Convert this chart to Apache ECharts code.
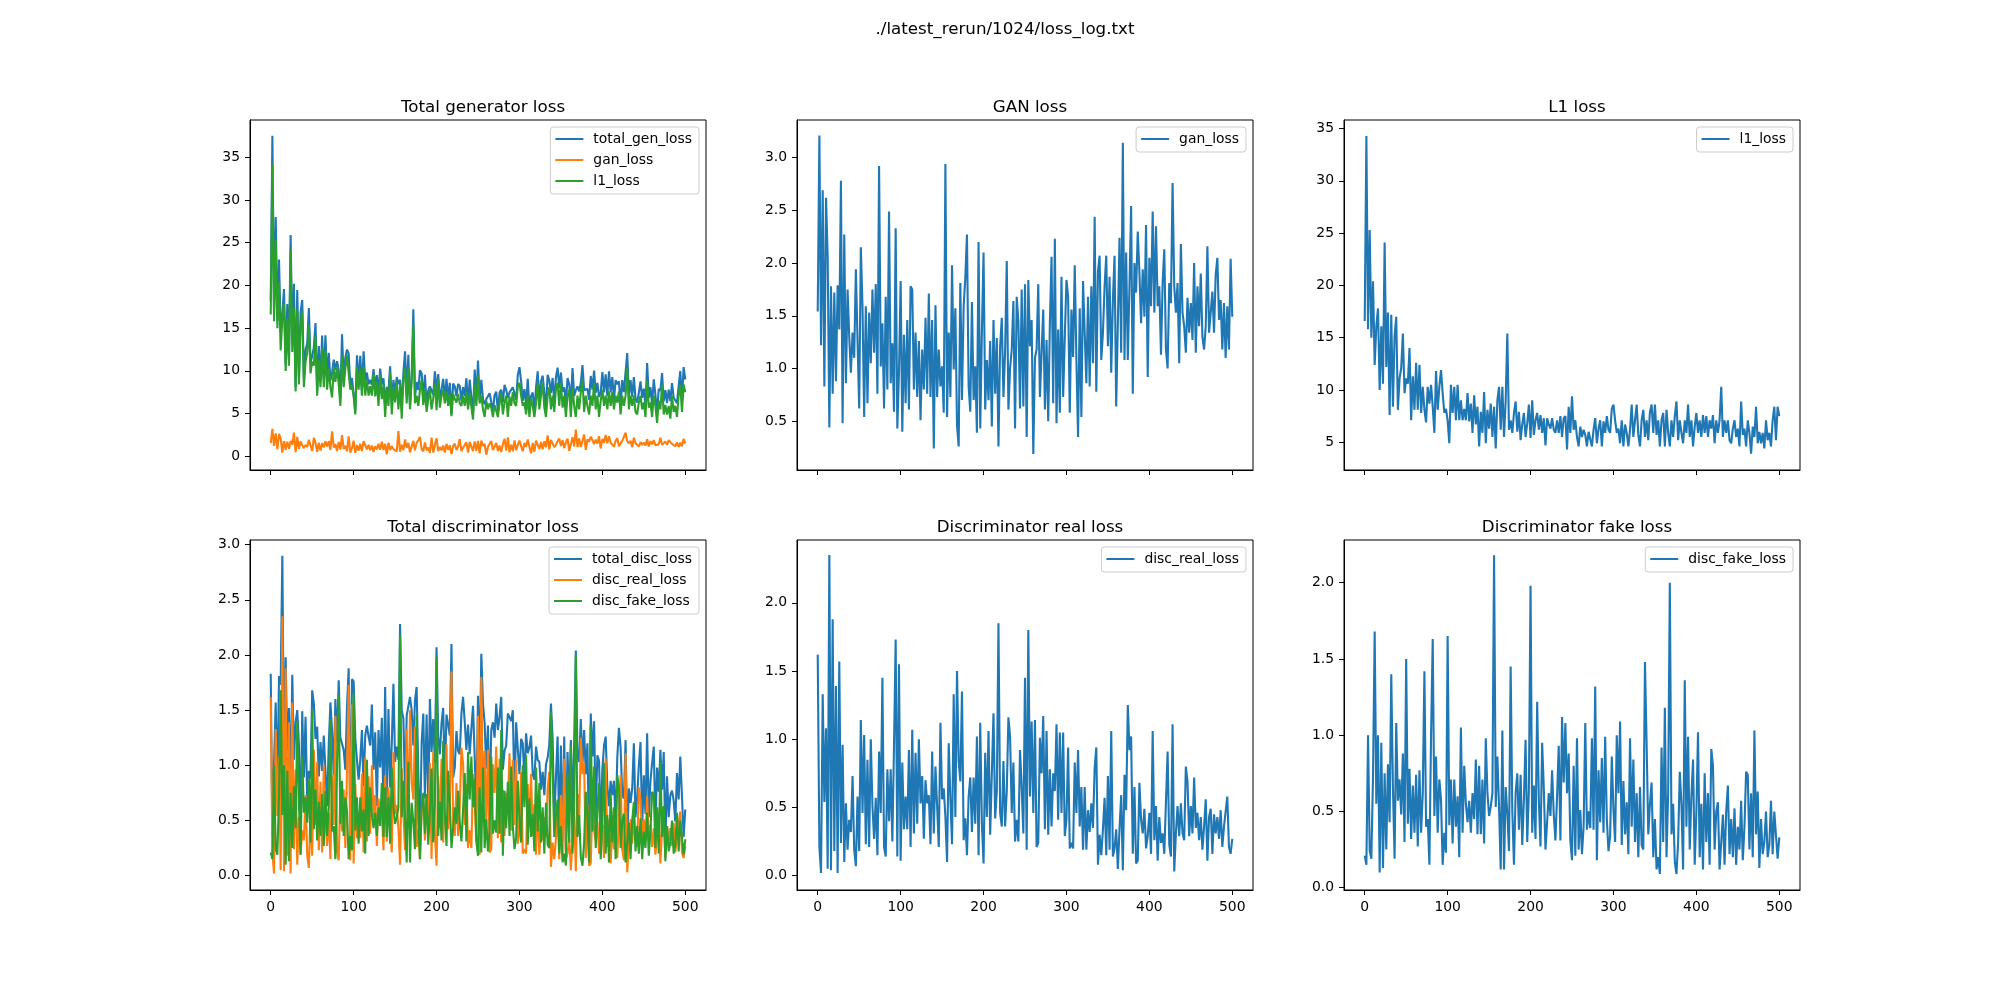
<!DOCTYPE html>
<html>
<head>
<meta charset="utf-8">
<title>loss_log</title>
<script src="https://cdn.jsdelivr.net/npm/echarts@6/dist/echarts.min.js"></script>
<style>
    html, body { margin: 0; padding: 0; background: #fff; }
    #chart { width: 2000px; height: 1000px; }
</style>
</head>
<body>
<div id="chart"></div>
<script>
// samples are logged every 2 epochs, 0..500
var lastEpoch = 500;

var totalGenLoss = [
    18.14, 37.51, 17.02, 27.99, 15.83, 23.02,
    14.46, 16.54, 19.58, 10.76, 17.82,
    11.48, 25.89, 13.57, 20.18, 8.08,
    19.47, 9.26, 16.85, 18.30, 9.06,
    12.44, 13.20, 17.34, 10.97, 11.72,
    12.75, 15.59, 7.64, 12.89, 8.77,
    14.13, 9.15, 14.15, 8.95, 12.10,
    8.86, 9.82, 11.32, 10.13, 11.12,
    10.08, 6.70, 14.29, 8.96, 11.54,
    12.49, 12.03, 8.23, 9.16, 8.93,
    5.30, 11.82, 8.47, 11.76, 7.71,
    12.28, 8.85, 9.80, 8.44, 8.93,
    8.36, 10.21, 8.18, 9.50, 7.38,
    10.26, 8.41, 9.13, 6.06, 8.14,
    7.50, 10.53, 6.08, 8.93, 7.32,
    9.28, 8.44, 8.94, 5.74, 9.73,
    12.28, 7.19, 11.87, 5.96, 9.26,
    17.21, 6.90, 8.69, 7.76, 10.07,
    9.73, 6.59, 9.53, 5.90, 7.72,
    8.19, 7.70, 7.23, 9.94, 7.50,
    9.61, 6.78, 7.80, 9.06, 6.65,
    9.06, 6.66, 8.59, 4.96, 8.51,
    8.18, 7.03, 8.46, 8.22, 6.51,
    8.10, 7.08, 9.14, 5.93, 8.98,
    8.95, 4.92, 10.15, 6.54, 11.20,
    6.55, 8.94, 6.71, 6.06, 6.69,
    6.60, 7.38, 7.50, 5.33, 7.15,
    7.56, 5.21, 7.47, 7.80, 6.33,
    8.36, 7.77, 6.83, 7.48, 7.27,
    8.08, 8.07, 6.63, 9.50, 10.44,
    8.78, 6.48, 7.86, 6.01, 9.08,
    5.68, 7.05, 7.47, 5.14, 8.03,
    9.94, 6.36, 8.78, 9.43, 7.48,
    5.65, 9.54, 8.88, 7.42, 9.17,
    6.28, 9.24, 10.38, 7.97, 9.81,
    7.57, 8.06, 6.25, 9.17, 8.44,
    6.03, 10.34, 7.05, 7.74, 8.18,
    7.60, 8.58, 10.68, 7.74, 7.86,
    7.90, 6.62, 9.40, 7.81, 10.03,
    7.44, 8.59, 6.96, 7.42, 9.85,
    7.49, 9.59, 7.03, 9.95, 7.49,
    9.28, 6.63, 8.91, 8.43, 8.78,
    5.90, 8.91, 7.52, 9.86, 12.08,
    7.03, 8.91, 6.95, 9.28, 6.73,
    6.30, 7.45, 8.77, 6.84, 7.92,
    5.87, 10.90, 6.85, 8.08, 6.00,
    9.00, 7.20, 5.08, 7.90, 7.66,
    9.74, 6.43, 7.73, 6.24, 7.79,
    6.45, 8.56, 6.85, 7.08, 6.22,
    8.20, 9.99, 6.38, 10.44, 8.99
];

var ganLoss = [
    1.54, 3.21, 1.22, 2.69, 0.83, 2.62,
    2.06, 0.44, 1.78, 0.76, 1.72,
    0.88, 1.79, 1.37, 2.78, 0.48,
    2.27, 0.86, 1.75, 1.30, 0.96,
    1.34, 1.10, 1.94, 1.27, 0.62,
    2.15, 1.59, 0.54, 1.59, 0.67,
    1.53, 1.05, 1.75, 1.15, 1.80,
    0.76, 2.92, 1.02, 1.43, 0.62,
    1.68, 0.80, 2.49, 0.86, 1.24,
    0.59, 2.33, 0.43, 0.96, 1.83,
    0.40, 1.32, 0.67, 1.46, 0.61,
    1.78, 1.75, 0.80, 1.34, 0.73,
    1.26, 0.51, 1.18, 0.80, 1.48,
    0.76, 1.71, 0.73, 1.46, 0.24,
    1.60, 0.73, 1.18, 0.83, 1.02,
    0.58, 2.94, 0.54, 1.34, 0.73,
    1.98, 0.99, 1.57, 0.46, 0.26,
    1.81, 0.70, 1.59, 1.86, 2.27,
    0.83, 0.59, 1.63, 0.70, 1.02,
    0.39, 2.20, 0.43, 1.34, 2.10,
    0.61, 1.08, 0.70, 1.26, 0.45,
    1.46, 0.76, 1.29, 0.26, 1.21,
    1.48, 0.73, 1.16, 2.02, 0.61,
    1.00, 1.18, 1.64, 0.43, 1.68,
    1.45, 0.62, 1.75, 0.64, 1.80,
    0.35, 1.84, 1.21, 1.46, 0.19,
    1.10, 1.18, 1.80, 0.73, 1.15,
    1.56, 0.61, 1.27, 0.50, 1.43,
    2.06, 0.67, 2.23, 0.48, 1.37,
    0.58, 1.87, 0.73, 1.30, 1.84,
    1.68, 0.58, 1.56, 1.11, 1.98,
    1.08, 0.35, 1.57, 0.54, 1.83,
    1.34, 0.86, 1.68, 0.83, 1.78,
    1.05, 2.44, 0.78, 1.92, 2.07,
    1.08, 1.34, 1.78, 2.07, 1.21,
    1.87, 0.96, 1.65, 2.07, 0.64,
    1.43, 2.24, 1.15, 3.14, 1.08,
    2.10, 1.08, 1.78, 2.54, 0.76,
    2.00, 1.72, 2.30, 1.91, 1.43,
    1.94, 1.49, 2.36, 0.92, 2.05,
    1.59, 2.49, 1.53, 2.35, 1.59,
    1.78, 1.13, 1.81, 2.13, 1.18,
    1.00, 1.81, 1.62, 2.76, 1.78,
    1.53, 1.81, 1.05, 2.18, 1.53,
    1.40, 1.15, 1.67, 1.34, 1.62,
    1.27, 2.00, 1.15, 1.78, 1.40,
    1.90, 1.30, 1.18, 1.40, 2.16,
    1.34, 1.53, 1.73, 1.34, 1.89,
    2.05, 1.46, 1.65, 1.18, 1.62,
    1.10, 1.59, 1.18, 2.04, 1.49
];

var l1Loss = [
    16.6, 34.3, 15.8, 25.3, 15.0, 20.4,
    12.4, 16.1, 17.8, 10.0, 16.1,
    10.6, 24.1, 12.2, 17.4, 7.6,
    17.2, 8.4, 15.1, 17.0, 8.1,
    11.1, 12.1, 15.4, 9.7, 11.1,
    10.6, 14.0, 7.1, 11.3, 8.1,
    12.6, 8.1, 12.4, 7.8, 10.3,
    8.1, 6.9, 10.3, 8.7, 10.5,
    8.4, 5.9, 11.8, 8.1, 10.3,
    11.9, 9.7, 7.8, 8.2, 7.1,
    4.9, 10.5, 7.8, 10.3, 7.1,
    10.5, 7.1, 9.0, 7.1, 8.2,
    7.1, 9.7, 7.0, 8.7, 5.9,
    9.5, 6.7, 8.4, 4.6, 7.9,
    5.9, 9.8, 4.9, 8.1, 6.3,
    8.7, 5.5, 8.4, 4.4, 9.0,
    10.3, 6.2, 10.3, 5.5, 9.0,
    15.4, 6.2, 7.1, 5.9, 7.8,
    8.9, 6.0, 7.9, 5.2, 6.7,
    7.8, 5.5, 6.8, 8.6, 5.4,
    9.0, 5.7, 7.1, 7.8, 6.2,
    7.6, 5.9, 7.3, 4.7, 7.3,
    6.7, 6.3, 7.3, 6.2, 5.9,
    7.1, 5.9, 7.5, 5.5, 7.3,
    7.5, 4.3, 8.4, 5.9, 9.4,
    6.2, 7.1, 5.5, 4.6, 6.5,
    5.5, 6.2, 5.7, 4.6, 6.0,
    6.0, 4.6, 6.2, 7.3, 4.9,
    6.3, 7.1, 4.6, 7.0, 5.9,
    7.5, 6.2, 5.9, 8.2, 8.6,
    7.1, 5.9, 6.3, 4.9, 7.1,
    4.6, 6.7, 5.9, 4.6, 6.2,
    8.6, 5.5, 7.1, 8.6, 5.7,
    4.6, 7.1, 8.1, 5.5, 7.1,
    5.2, 7.9, 8.6, 5.9, 8.6,
    5.7, 7.1, 4.6, 7.1, 7.8,
    4.6, 8.1, 5.9, 4.6, 7.1,
    5.5, 7.5, 8.9, 5.2, 7.1,
    5.9, 4.9, 7.1, 5.9, 8.6,
    5.5, 7.1, 4.6, 6.5, 7.8,
    5.9, 7.1, 5.5, 7.6, 5.9,
    7.5, 5.5, 7.1, 6.3, 7.6,
    4.9, 7.1, 5.9, 7.1, 10.3,
    5.5, 7.1, 5.9, 7.1, 5.2,
    4.9, 6.3, 7.1, 5.5, 6.3,
    4.6, 8.9, 5.7, 6.3, 4.6,
    7.1, 5.9, 3.9, 6.5, 5.5,
    8.4, 4.9, 6.0, 4.9, 5.9,
    4.4, 7.1, 5.2, 5.9, 4.6,
    7.1, 8.4, 5.2, 8.4, 7.5
];

var totalDiscLoss = [
    1.83, 0.36, 1.02, 1.57, 0.73, 1.81,
    1.73, 2.90, 1.04, 1.98, 1.13,
    1.52, 0.77, 1.82, 1.05, 1.39,
    1.50, 1.19, 0.38, 1.49, 0.89,
    1.44, 0.67, 0.95, 0.88, 1.68,
    1.56, 1.24, 1.35, 0.90, 1.21,
    0.95, 1.27, 1.28, 0.63, 1.19,
    1.57, 1.31, 0.91, 1.60, 1.21,
    1.77, 1.25, 1.26, 1.14, 0.96,
    1.53, 1.88, 0.50, 1.78, 1.76,
    1.24, 1.05, 0.87, 1.05, 1.32,
    0.81, 1.27, 1.36, 1.26, 1.18,
    1.55, 0.96, 1.30, 0.63, 1.32,
    0.98, 1.43, 0.58, 1.71, 0.66,
    1.51, 0.80, 1.19, 1.74, 1.03,
    1.17, 1.05, 2.28, 1.50, 1.42,
    0.76, 1.45, 1.46, 1.62, 1.50,
    1.18, 1.59, 1.71, 0.92, 0.30,
    1.20, 1.47, 0.70, 1.46, 0.66,
    1.60, 1.12, 1.42, 1.02, 2.07,
    1.26, 1.10, 1.38, 1.52, 0.88,
    1.46, 1.37, 1.27, 2.10, 0.89,
    0.98, 1.31, 1.13, 1.10, 1.47,
    1.62, 1.39, 1.14, 1.37, 1.10,
    1.33, 1.54, 1.53, 0.62, 1.63,
    0.99, 2.01, 1.56, 1.38, 0.97,
    1.36, 0.61, 1.32, 1.39, 1.25,
    1.56, 1.32, 1.44, 1.62, 0.96,
    1.13, 1.18, 1.47, 1.47, 1.40,
    1.50, 0.70, 1.39, 1.15, 0.92,
    1.24, 1.20, 0.86, 1.29, 1.11,
    1.16, 1.27, 0.92, 0.87, 1.17,
    1.05, 1.03, 0.78, 0.94, 0.73,
    1.01, 1.07, 1.19, 1.56, 1.24,
    0.50, 0.89, 1.26, 0.35, 1.18,
    0.31, 1.26, 0.23, 1.12, 0.64,
    1.23, 0.54, 1.21, 2.04, 1.09,
    1.03, 1.42, 1.01, 1.32, 0.92,
    1.20, 0.21, 1.47, 1.08, 1.40,
    0.56, 1.09, 1.04, 0.44, 0.96,
    1.18, 1.26, 0.81, 0.63, 0.86,
    0.73, 0.86, 0.46, 1.07, 1.34,
    1.16, 0.73, 0.70, 1.23, 0.33,
    0.79, 0.66, 0.79, 1.20, 0.53,
    0.71, 1.00, 1.21, 0.44, 0.91,
    0.56, 1.29, 0.53, 0.86, 1.02,
    1.17, 0.44, 0.98, 0.76, 1.14,
    0.78, 1.12, 0.29, 0.90, 0.53,
    0.73, 0.77, 0.68, 0.49, 0.93,
    0.69, 1.08, 0.72, 0.35, 0.60
];

var discRealLoss = [
    1.62, 0.21, 0.02, 1.33, 0.54, 1.08,
    0.05, 2.35, 0.04, 1.88, 0.18,
    1.39, 0.02, 1.57, 0.24, 0.96,
    0.10, 0.53, 0.19, 0.41, 0.32,
    0.73, 0.19, 0.07, 0.58, 0.18,
    1.14, 0.46, 1.03, 0.23, 0.85,
    0.21, 1.00, 0.51, 0.27, 0.57,
    0.15, 0.91, 0.46, 1.45, 0.21,
    0.14, 0.78, 0.40, 0.78, 0.25,
    0.95, 1.73, 0.14, 1.55, 0.11,
    0.83, 0.34, 0.58, 0.34, 0.92,
    0.21, 1.07, 0.31, 0.90, 0.38,
    1.00, 0.53, 0.73, 0.27, 0.70,
    0.53, 0.59, 0.23, 0.91, 0.31,
    0.80, 0.51, 0.21, 1.12, 0.56,
    0.64, 0.43, 0.10, 0.97, 0.56,
    0.23, 1.33, 0.43, 1.50, 0.84,
    0.69, 1.35, 0.26, 0.42, 0.15,
    0.58, 0.72, 0.32, 0.72, 0.38,
    1.02, 0.15, 1.12, 0.38, 0.09,
    0.90, 0.43, 1.06, 0.30, 0.31,
    1.19, 0.42, 0.62, 1.85, 0.46,
    0.36, 0.84, 0.36, 0.62, 1.16,
    1.02, 0.46, 0.83, 0.25, 0.41,
    0.25, 0.92, 0.65, 0.31, 1.45,
    0.19, 1.80, 0.58, 1.13, 0.46,
    1.14, 0.21, 0.24, 1.01, 0.75,
    1.17, 0.34, 1.06, 0.30, 0.78,
    0.36, 0.75, 0.62, 1.11, 0.41,
    1.05, 0.46, 1.05, 0.29, 0.41,
    0.94, 0.20, 0.24, 0.20, 0.83,
    0.46, 0.92, 0.36, 0.65, 0.19,
    0.65, 0.19, 0.48, 0.32, 0.53,
    0.35, 0.79, 0.94, 0.08, 0.30,
    0.15, 0.34, 0.57, 0.15, 0.73,
    0.19, 1.06, 0.14, 0.20, 0.34,
    0.05, 0.34, 0.59, 0.04, 0.74,
    0.48, 1.25, 0.92, 1.02, 0.16,
    0.65, 0.09, 0.11, 0.68, 0.41,
    0.31, 0.49, 0.20, 0.29, 0.46,
    0.16, 1.06, 0.26, 0.51, 0.11,
    0.43, 0.24, 0.31, 0.16, 0.54,
    0.91, 0.23, 0.14, 1.11, 0.03,
    0.31, 0.51, 0.29, 0.53, 0.31,
    0.26, 0.80, 0.69, 0.29, 0.51,
    0.31, 0.72, 0.35, 0.46, 0.26,
    0.43, 0.19, 0.36, 0.56, 0.11,
    0.43, 0.49, 0.16, 0.45, 0.31,
    0.43, 0.27, 0.48, 0.21, 0.36,
    0.47, 0.58, 0.21, 0.16, 0.27
];

var discFakeLoss = [
    0.21, 0.15, 1.00, 0.24, 0.19, 0.73,
    1.68, 0.55, 1.00, 0.10, 0.95,
    0.13, 0.75, 0.25, 0.81, 0.43,
    1.40, 0.66, 0.19, 1.08, 0.57,
    0.71, 0.48, 0.88, 0.30, 1.50,
    0.42, 0.78, 0.32, 0.67, 0.36,
    0.74, 0.27, 0.77, 0.36, 0.62,
    1.42, 0.40, 0.45, 0.15, 1.00,
    1.63, 0.47, 0.86, 0.36, 0.71,
    0.58, 0.15, 0.36, 0.23, 1.65,
    0.41, 0.71, 0.29, 0.71, 0.40,
    0.60, 0.20, 1.05, 0.36, 0.80,
    0.55, 0.43, 0.57, 0.36, 0.62,
    0.45, 0.84, 0.35, 0.80, 0.35,
    0.71, 0.29, 0.98, 0.62, 0.47,
    0.53, 0.62, 2.18, 0.53, 0.86,
    0.53, 0.12, 1.03, 0.12, 0.66,
    0.49, 0.24, 1.45, 0.50, 0.15,
    0.62, 0.75, 0.38, 0.74, 0.28,
    0.58, 0.97, 0.30, 0.64, 1.98,
    0.36, 0.67, 0.32, 1.22, 0.57,
    0.27, 0.95, 0.65, 0.25, 0.43,
    0.62, 0.47, 0.77, 0.48, 0.31,
    0.60, 0.93, 0.31, 1.12, 0.69,
    1.08, 0.62, 0.88, 0.31, 0.18,
    0.80, 0.21, 0.98, 0.25, 0.51,
    0.22, 0.40, 1.08, 0.38, 0.50,
    0.39, 0.98, 0.38, 1.32, 0.18,
    0.77, 0.43, 0.85, 0.36, 0.99,
    0.45, 0.24, 0.34, 0.86, 0.51,
    0.30, 1.00, 0.62, 1.09, 0.28,
    0.70, 0.35, 0.56, 0.22, 0.98,
    0.40, 0.84, 0.30, 0.62, 0.20,
    0.66, 0.28, 0.25, 1.48, 0.94,
    0.35, 0.55, 0.69, 0.20, 0.45,
    0.12, 0.20, 0.09, 0.92, 0.30,
    1.18, 0.20, 0.62, 2.00, 0.35,
    0.55, 0.17, 0.09, 0.30, 0.76,
    0.55, 0.12, 1.36, 0.40, 0.99,
    0.25, 0.60, 0.84, 0.15, 0.50,
    1.02, 0.20, 0.55, 0.12, 0.75,
    0.30, 0.62, 0.15, 0.91, 0.80,
    0.25, 0.50, 0.56, 0.12, 0.30,
    0.48, 0.15, 0.50, 0.67, 0.22,
    0.45, 0.20, 0.52, 0.15, 0.40,
    0.25, 0.57, 0.18, 0.40, 0.76,
    0.74, 0.25, 0.62, 0.20, 1.03,
    0.35, 0.63, 0.13, 0.45, 0.22,
    0.30, 0.50, 0.20, 0.28, 0.57,
    0.22, 0.50, 0.51, 0.19, 0.33
];

var xTicks = [0, 100, 200, 300, 400, 500];
var genTicks = [0, 5, 10, 15, 20, 25, 30, 35];
var ganTicks = [0.5, 1.0, 1.5, 2.0, 2.5, 3.0];
var l1Ticks = [5, 10, 15, 20, 25, 30, 35];
var discTicks = [0.0, 0.5, 1.0, 1.5, 2.0, 2.5, 3.0];
var realTicks = [0.0, 0.5, 1.0, 1.5, 2.0];
var fakeTicks = [0.0, 0.5, 1.0, 1.5, 2.0];

var BLUE = '#1f77b4', ORANGE = '#ff7f0e', GREEN = '#2ca02c';
var FONT = 'DejaVu Sans';
var colLeft = [250, 797, 1344];
var rowTop = [120, 540];
var W = 456, H = 350;

var panels = [
    {title: 'Total generator loss', col: 0, row: 0, yMin: -1.6, yMax: 39.35, ticks: genTicks, dec: 0,
        lines: [['total_gen_loss', totalGenLoss, BLUE], ['gan_loss', ganLoss, ORANGE], ['l1_loss', l1Loss, GREEN]]},
    {title: 'GAN loss', col: 1, row: 0, yMin: 0.037, yMax: 3.357, ticks: ganTicks, dec: 1,
        lines: [['gan_loss', ganLoss, BLUE]]},
    {title: 'L1 loss', col: 2, row: 0, yMin: 2.345, yMax: 35.82, ticks: l1Ticks, dec: 0,
        lines: [['l1_loss', l1Loss, BLUE]]},
    {title: 'Total discriminator loss', col: 0, row: 1, yMin: -0.130, yMax: 3.042, ticks: discTicks, dec: 1,
        lines: [['total_disc_loss', totalDiscLoss, BLUE], ['disc_real_loss', discRealLoss, ORANGE], ['disc_fake_loss', discFakeLoss, GREEN]]},
    {title: 'Discriminator real loss', col: 1, row: 1, yMin: -0.105, yMax: 2.46, ticks: realTicks, dec: 1,
        lines: [['disc_real_loss', discRealLoss, BLUE]]},
    {title: 'Discriminator fake loss', col: 2, row: 1, yMin: -0.015, yMax: 2.28, ticks: fakeTicks, dec: 1,
        lines: [['disc_fake_loss', discFakeLoss, BLUE]]}
];

function toPoints(values) {
    var n = values.length;
    return values.map(function (v, i) { return [i * lastEpoch / (n - 1), v]; });
}

var labelStyle = {color: '#000', fontSize: 13.9, fontFamily: FONT};
var tickStyle = {color: '#000', width: 1};

var option = {
    animation: false,
    backgroundColor: '#fff',
    title: [{
        text: './latest_rerun/1024/loss_log.txt',
        left: 1000, textAlign: 'center', top: 16,
        textStyle: {color: '#000', fontSize: 16.7, fontWeight: 'normal', fontFamily: FONT}
    }],
    grid: [], xAxis: [], yAxis: [], legend: [], series: []
};

panels.forEach(function (p, i) {
    var left = colLeft[p.col], top = rowTop[p.row];
    option.grid.push({left: left, top: top, width: W, height: H, show: true,
        borderColor: '#000', borderWidth: 1, backgroundColor: 'transparent'});
    option.title.push({
        text: p.title, left: left + W / 2, textAlign: 'center', top: top - 26,
        textStyle: {color: '#000', fontSize: 16.7, fontWeight: 'normal', fontFamily: FONT}
    });
    option.xAxis.push({
        type: 'value', gridIndex: i, min: -25, max: 525,
        splitLine: {show: false},
        axisLine: {show: true, onZero: false, lineStyle: tickStyle},
        axisTick: {show: true, length: 5, customValues: xTicks, lineStyle: tickStyle},
        axisLabel: Object.assign({show: p.row === 1, customValues: xTicks, margin: 10}, labelStyle)
    });
    option.yAxis.push({
        type: 'value', gridIndex: i, min: p.yMin, max: p.yMax,
        splitLine: {show: false},
        axisLine: {show: true, onZero: false, lineStyle: tickStyle},
        axisTick: {show: true, length: 5, customValues: p.ticks, lineStyle: tickStyle},
        axisLabel: Object.assign({customValues: p.ticks, margin: 10,
            formatter: function (v) { return v.toFixed(p.dec); }}, labelStyle)
    });
    option.legend.push({
        orient: 'vertical', right: 2000 - (left + W - 7), top: top + 7,
        icon: 'rect', itemWidth: 28, itemHeight: 2, itemGap: 7,
        padding: [5, 7, 6, 5],
        backgroundColor: 'rgba(255,255,255,0.8)', borderColor: '#cccccc', borderWidth: 1, borderRadius: 3,
        selectedMode: false,
        textStyle: Object.assign({padding: [0, 0, 0, 5]}, labelStyle),
        data: p.lines.map(function (l) { return {name: l[0], itemStyle: {color: l[2]}}; })
    });
    p.lines.forEach(function (l) {
        option.series.push({
            name: l[0], type: 'line', xAxisIndex: i, yAxisIndex: i,
            data: toPoints(l[1]), showSymbol: false, symbol: 'none',
            lineStyle: {color: l[2], width: 2.1}, itemStyle: {color: l[2]},
            emphasis: {disabled: true}
        });
    });
});

var chart = echarts.init(document.getElementById('chart'));
chart.setOption(option);
</script>
</body>
</html>
